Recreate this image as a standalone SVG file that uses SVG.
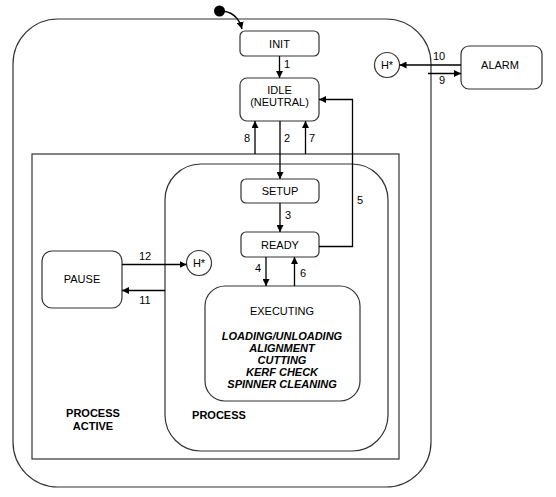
<svg xmlns="http://www.w3.org/2000/svg" width="556" height="497" viewBox="0 0 556 497">
<style>
.box{fill:#fff;stroke:#333;stroke-width:1.2}
.cont{fill:none;stroke:#333;stroke-width:1.2}
.t{font-family:"Liberation Sans",Arial,sans-serif;font-size:11px;fill:#000;text-anchor:middle}
.b{font-weight:bold}
.bi{font-weight:bold;font-style:italic}
.c{fill:none;stroke:#000;stroke-width:1.3}
</style>
<defs>
<marker id="ah" viewBox="0 0 10 10" refX="10" refY="5" markerWidth="7" markerHeight="7" markerUnits="userSpaceOnUse" orient="auto">
<path d="M0,0 L10,5 L0,10 z" fill="#000"/>
</marker>
</defs>
<rect width="556" height="497" fill="#fff"/>

<g id="outer"><rect class="cont" x="13" y="19" width="418" height="468" rx="45" ry="45"/></g>
<g id="process-active">
<rect class="cont" x="32" y="154" width="367" height="305"/>
<text class="t b" x="93" y="417">PROCESS</text>
<text class="t b" x="93" y="430">ACTIVE</text>
</g>
<g id="process">
<rect class="cont" x="165" y="164" width="223" height="287" rx="36" ry="36"/>
<text class="t b" x="219" y="419">PROCESS</text>
</g>

<g id="init"><rect class="box" x="240" y="31" width="79" height="25" rx="5"/><text class="t" x="279.5" y="48">INIT</text></g>
<g id="idle"><rect class="box" x="240" y="78" width="79" height="43" rx="7"/><text class="t" x="279.5" y="94">IDLE</text><text class="t" x="279.5" y="106">(NEUTRAL)</text></g>
<g id="setup"><rect class="box" x="241" y="179" width="78" height="24" rx="5"/><text class="t" x="280" y="195">SETUP</text></g>
<g id="ready"><rect class="box" x="241" y="232" width="78" height="25" rx="5"/><text class="t" x="280" y="249">READY</text></g>
<g id="executing">
<rect class="box" x="205" y="286" width="155" height="115" rx="20"/>
<text class="t" x="282" y="315">EXECUTING</text>
<text class="t bi" x="282" y="340">LOADING/UNLOADING</text>
<text class="t bi" x="282" y="352">ALIGNMENT</text>
<text class="t bi" x="282" y="364">CUTTING</text>
<text class="t bi" x="282" y="376">KERF CHECK</text>
<text class="t bi" x="282" y="388">SPINNER CLEANING</text>
</g>
<g id="pause"><rect class="box" x="42" y="251" width="80" height="57" rx="10"/><text class="t" x="82" y="283">PAUSE</text></g>
<g id="alarm"><rect class="box" x="461" y="46" width="81" height="43" rx="8"/><text class="t" x="500" y="69">ALARM</text></g>
<g id="hist-top"><circle class="box" cx="387" cy="65" r="12.5"/><text class="t" x="387" y="69">H*</text></g>
<g id="hist-process"><circle class="box" cx="199" cy="263" r="12.5"/><text class="t" x="199" y="267">H*</text></g>
<g id="initial"><circle cx="219.5" cy="11" r="5.5" fill="#000"/></g>

<g id="connectors">
<path class="c" d="M220,11 C232,11 239,18 242,29" marker-end="url(#ah)"/>
<path class="c" d="M279.5,56 V78" marker-end="url(#ah)"/>
<path class="c" d="M280,121 V179" marker-end="url(#ah)"/>
<path class="c" d="M280,203 V232" marker-end="url(#ah)"/>
<path class="c" d="M266,257 V286" marker-end="url(#ah)"/>
<path class="c" d="M294.5,286 V257" marker-end="url(#ah)"/>
<path class="c" d="M319,246.5 H352.5 V99.5 H319" marker-end="url(#ah)"/>
<path class="c" d="M255,154 V121" marker-end="url(#ah)"/>
<path class="c" d="M305.5,154 V121" marker-end="url(#ah)"/>
<path class="c" d="M461,65 H399.5" marker-end="url(#ah)"/>
<path class="c" d="M428,73.5 H461" marker-end="url(#ah)"/>
<path class="c" d="M122,264.5 H186.5" marker-end="url(#ah)"/>
<path class="c" d="M165,290.5 H122" marker-end="url(#ah)"/>
<text class="t" x="287" y="68">1</text>
<text class="t" x="287" y="142">2</text>
<text class="t" x="288" y="219">3</text>
<text class="t" x="258" y="272">4</text>
<text class="t" x="360" y="204">5</text>
<text class="t" x="303" y="277">6</text>
<text class="t" x="312" y="142">7</text>
<text class="t" x="247" y="142">8</text>
<text class="t" x="442" y="84">9</text>
<text class="t" x="439" y="60">10</text>
<text class="t" x="145" y="304">11</text>
<text class="t" x="145" y="260">12</text>
</g>
</svg>
